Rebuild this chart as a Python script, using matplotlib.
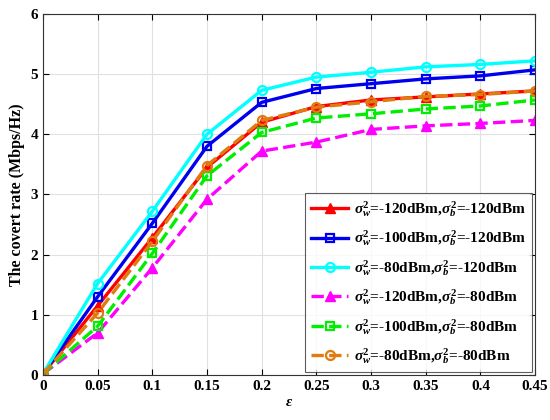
import matplotlib
matplotlib.use('Agg')
import matplotlib.pyplot as plt

plt.rcParams['font.family'] = ['Liberation Serif', 'DejaVu Serif']
plt.rcParams['font.weight'] = 'bold'
plt.rcParams['mathtext.fontset'] = 'custom'
plt.rcParams['mathtext.rm'] = 'Liberation Serif:bold'
plt.rcParams['mathtext.it'] = 'Liberation Serif:italic:bold'
plt.rcParams['mathtext.bf'] = 'Liberation Serif:bold'

eps = [0, 0.05, 0.1, 0.15, 0.2, 0.25, 0.3, 0.35, 0.4, 0.45]

rate_120_120 = [0.02, 1.15, 2.28, 3.45, 4.20, 4.46, 4.57, 4.62, 4.67, 4.72]
rate_100_120 = [0.02, 1.30, 2.52, 3.80, 4.53, 4.76, 4.84, 4.92, 4.97, 5.07]
rate_80_120 = [0.02, 1.52, 2.72, 4.00, 4.73, 4.95, 5.03, 5.12, 5.16, 5.22]
rate_120_80 = [0.02, 0.70, 1.78, 2.92, 3.72, 3.87, 4.08, 4.14, 4.18, 4.23]
rate_100_80 = [0.02, 0.81, 2.02, 3.31, 4.03, 4.27, 4.34, 4.42, 4.47, 4.57]
rate_80_80 = [0.02, 1.03, 2.22, 3.48, 4.23, 4.45, 4.54, 4.63, 4.66, 4.72]

labels = [
    r'$\sigma_w^2$=-120dBm,$\sigma_b^2$=-120dBm',
    r'$\sigma_w^2$=-100dBm,$\sigma_b^2$=-120dBm',
    r'$\sigma_w^2$=-80dBm,$\sigma_b^2$=-120dBm',
    r'$\sigma_w^2$=-120dBm,$\sigma_b^2$=-80dBm',
    r'$\sigma_w^2$=-100dBm,$\sigma_b^2$=-80dBm',
    r'$\sigma_w^2$=-80dBm,$\sigma_b^2$=-80dBm',
]

fig = plt.figure(figsize=(5.5, 4.2), dpi=100)
ax = fig.add_axes([0.078, 0.107, 0.895, 0.860])

ax.plot(eps, rate_120_120, color='red', linestyle='-', lw=2.4, marker='^',
        ms=7, label=labels[0])
ax.plot(eps, rate_100_120, color='#0000ee', linestyle='-', lw=2.4, marker='s',
        ms=5.5, mfc='none', mew=1.6, label=labels[1])
ax.plot(eps, rate_80_120, color='cyan', linestyle='-', lw=2.4, marker='o',
        ms=6.5, mfc='none', mew=1.6, label=labels[2])
ax.plot(eps, rate_120_80, color='magenta', linestyle='--', lw=2.4, marker='^',
        ms=7, label=labels[3])
ax.plot(eps, rate_100_80, color='#00ee00', linestyle='--', lw=2.4, marker='s',
        ms=5.5, mfc='none', mew=1.6, label=labels[4])
ax.plot(eps, rate_80_80, color='#e07b10', linestyle='--', lw=2.4, marker='o',
        ms=6.5, mfc='none', mew=1.6, label=labels[5])

ax.set_xlim(0, 0.45)
ax.set_ylim(0, 6)
ax.set_xticks(eps)
ax.set_xticklabels(['0', '0.05', '0.1', '0.15', '0.2', '0.25', '0.3', '0.35', '0.4', '0.45'])
ax.set_yticks(range(7))
ax.tick_params(direction='in', top=True, right=True, labelsize=11, length=4)
for lab in ax.get_xticklabels() + ax.get_yticklabels():
    lab.set_fontweight('bold')
ax.grid(True, color='#e0e0e0', lw=0.8)
for s in ax.spines.values():
    s.set_color('#333333')
    s.set_linewidth(0.8)

ax.set_xlabel(r'$\epsilon$', fontsize=11, labelpad=2)
ax.set_ylabel('The covert rate (Mbps/Hz)', fontsize=11.5, fontweight='bold', labelpad=4)

leg = ax.legend(loc='lower right', fontsize=11, frameon=True, fancybox=False,
                edgecolor='#333333', handlelength=2.4, borderpad=0.4,
                labelspacing=0.62, borderaxespad=0.2, handletextpad=0.4)
leg.get_frame().set_linewidth(0.8)

fig.savefig('out.png', dpi=100)
